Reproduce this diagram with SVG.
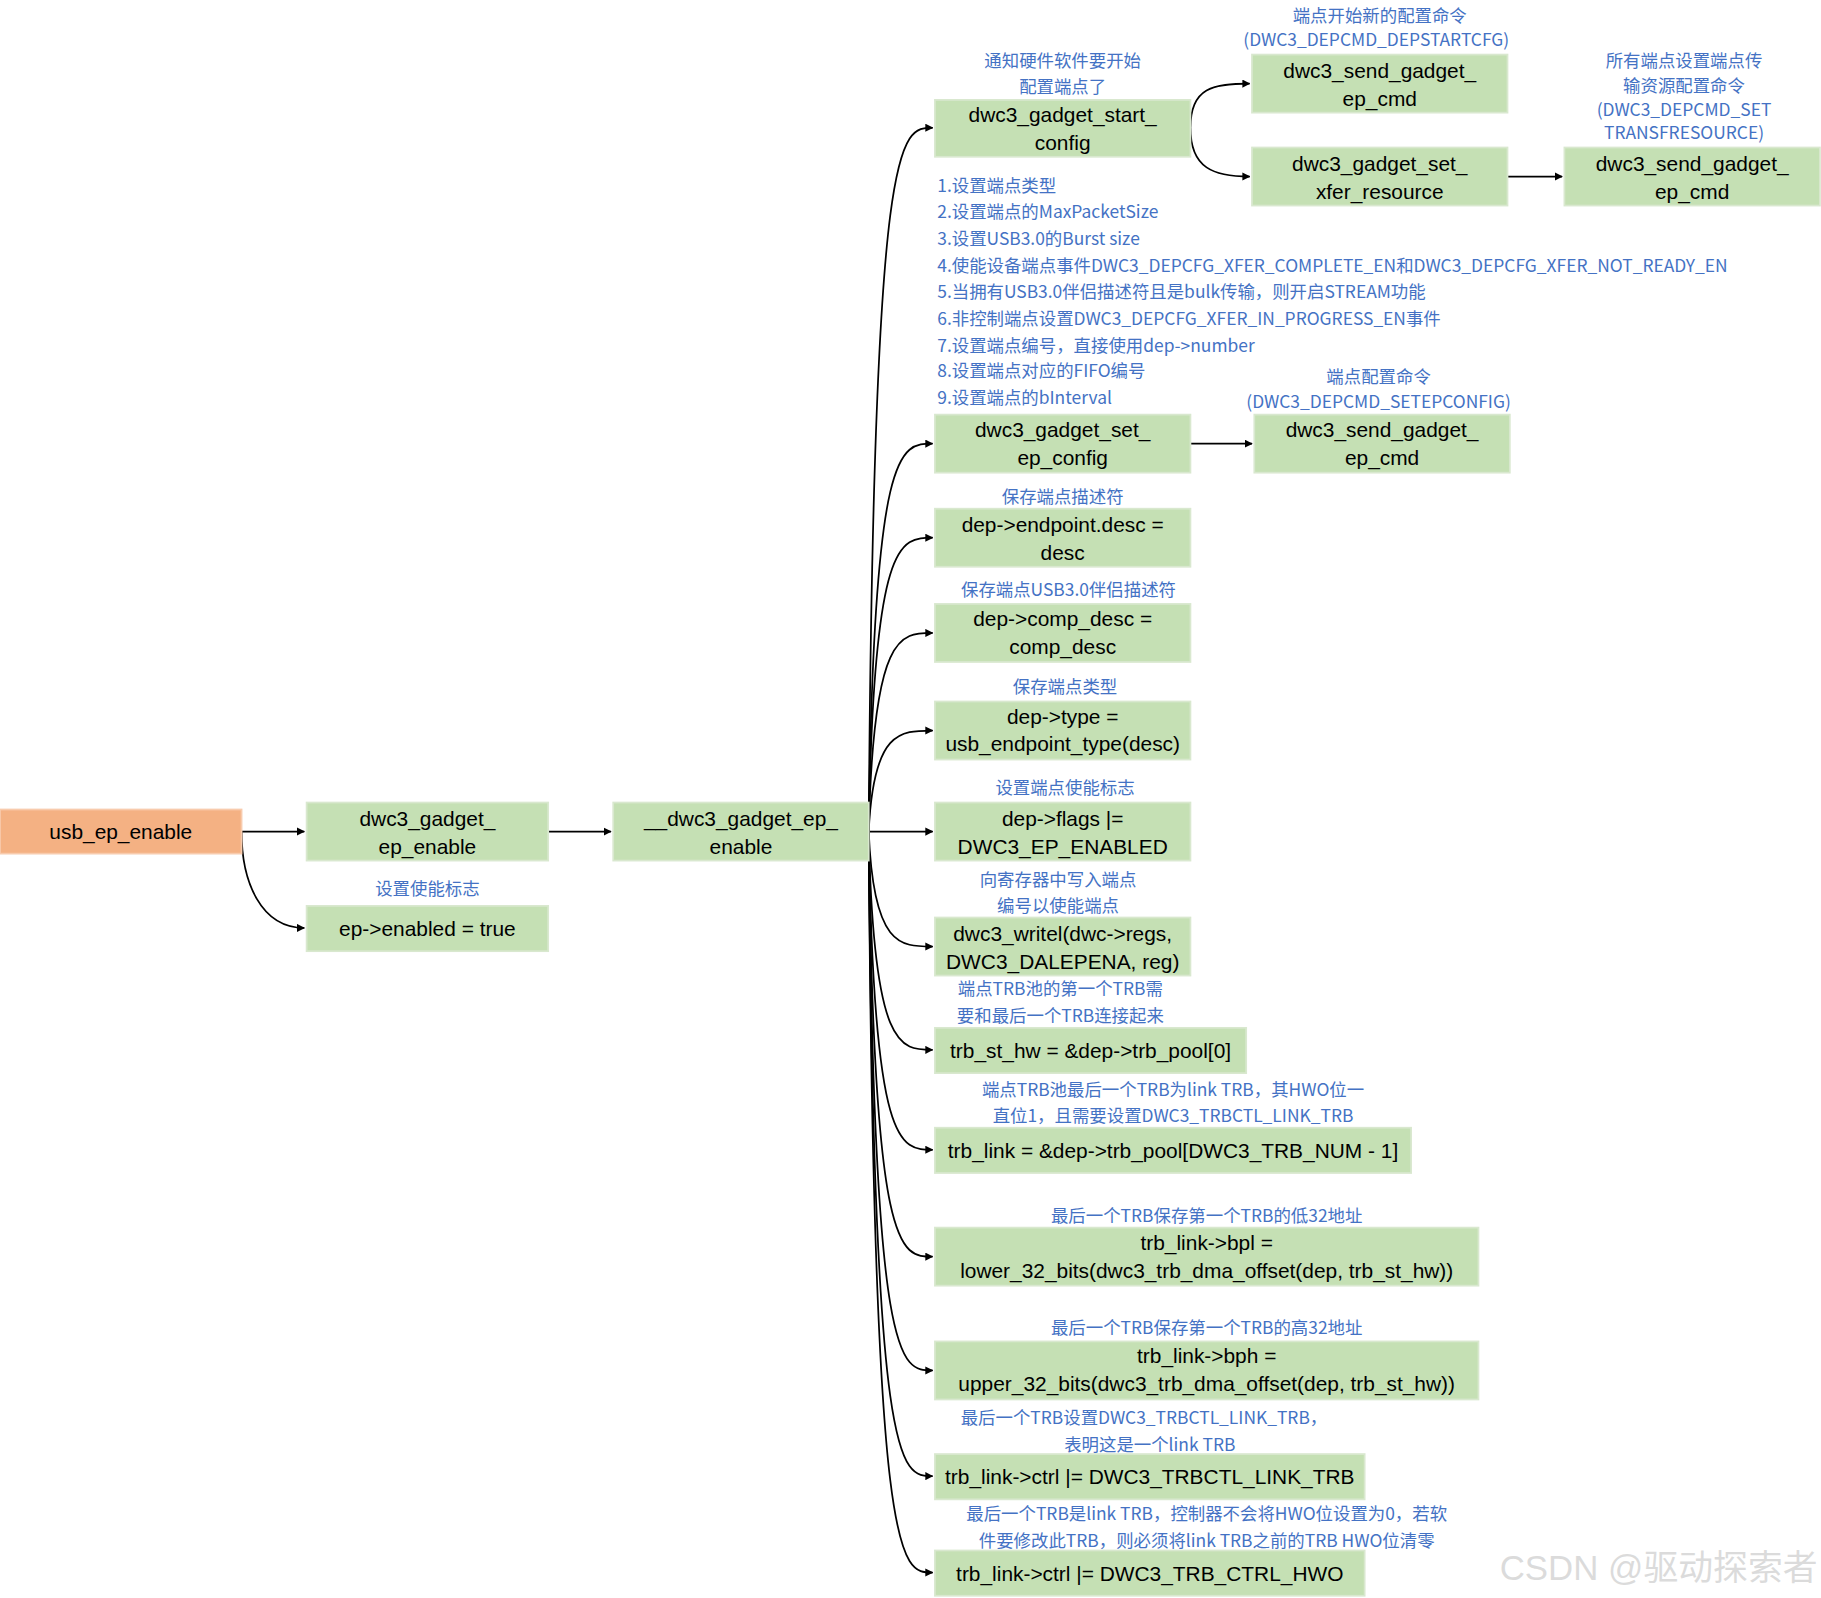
<svg xmlns="http://www.w3.org/2000/svg" width="1821" height="1598" viewBox="0 0 1821 1598">
<defs>
<marker id="ah" viewBox="0 0 10 10" refX="9" refY="5" markerWidth="7" markerHeight="7" orient="auto" markerUnits="userSpaceOnUse"><path d="M0,0 L10,5 L0,10 z" fill="#000"/></marker>
<style>
.g{fill:#C5E0B4;stroke:#D9E8CF;stroke-width:1.5}
.o{fill:#F4B183;stroke:#F8CBAD;stroke-width:1.5}
.t{font-family:"Liberation Sans","Noto Sans CJK SC",sans-serif;font-size:18px;fill:#000;text-anchor:middle}
.b{font-family:"Noto Sans CJK SC","Liberation Sans",sans-serif;font-size:15px;fill:#4472C4;text-anchor:middle}
.bl{font-family:"Noto Sans CJK SC","Liberation Sans",sans-serif;font-size:15px;fill:#4472C4}
.c{fill:none;stroke:#000;stroke-width:1.5;marker-end:url(#ah)}
</style>
</defs>
<rect width="1821" height="1598" fill="#fff"/>
<g transform="scale(1.1614)">
<g id="connectors">
<path class="c" d="M208,716 L262,716"/>
<path class="c" d="M208,716 C208,760 225,799 262,799"/>
<path class="c" d="M472,716 L526,716"/>
<path class="c" d="M748,716 L803,716"/>
<path class="c" d="M748,716 C752,110 775,110 803,110"/>
<path class="c" d="M748,716 C752,382 775,382 803,382"/>
<path class="c" d="M748,716 C752,463 775,463 803,463"/>
<path class="c" d="M748,716 C752,545 775,545 803,545"/>
<path class="c" d="M748,716 C752,629 775,629 803,629"/>
<path class="c" d="M748,716 C752,815 775,815 803,815"/>
<path class="c" d="M748,716 C752,904 775,904 803,904"/>
<path class="c" d="M748,716 C752,990 775,990 803,990"/>
<path class="c" d="M748,716 C752,1082 775,1082 803,1082"/>
<path class="c" d="M748,716 C752,1180 775,1180 803,1180"/>
<path class="c" d="M748,716 C752,1271 775,1271 803,1271"/>
<path class="c" d="M748,716 C752,1354 775,1354 803,1354"/>
<path class="c" d="M1025,110 C1025,75 1045,72 1076,72"/>
<path class="c" d="M1025,110 C1025,145 1045,152 1076,152"/>
<path class="c" d="M1298,152 L1345,152"/>
<path class="c" d="M1025,382 L1078,382"/>
</g>
<g id="n_usb"><rect class="o" x="0" y="697" width="208" height="38"/><text class="t" x="104" y="722">usb_ep_enable</text></g>
<g id="n_ep_enable"><rect class="g" x="264" y="691" width="208" height="50"/><text class="t" x="368" y="711">dwc3_gadget_</text><text class="t" x="368" y="735">ep_enable</text></g>
<g id="n_enabled"><text class="b" x="368" y="771">设置使能标志</text><rect class="g" x="264" y="780" width="208" height="39"/><text class="t" x="368" y="806">ep-&gt;enabled = true</text></g>
<g id="n_ep_enable2"><rect class="g" x="528" y="691" width="220" height="50"/><text class="t" x="638" y="711">__dwc3_gadget_ep_</text><text class="t" x="638" y="735">enable</text></g>
<g id="n_start"><text class="b" x="915" y="58">通知硬件软件要开始</text><text class="b" x="915" y="80">配置端点了</text><rect class="g" x="805" y="86" width="220" height="49"/><text class="t" x="915" y="105">dwc3_gadget_start_</text><text class="t" x="915" y="129">config</text></g>
<g id="n_cmd1"><text class="b" x="1188" y="19">端点开始新的配置命令</text><text class="b" x="1185" y="40">(DWC3_DEPCMD_DEPSTARTCFG)</text><rect class="g" x="1078" y="47" width="220" height="50"/><text class="t" x="1188" y="67">dwc3_send_gadget_</text><text class="t" x="1188" y="91">ep_cmd</text></g>
<g id="n_xfer"><rect class="g" x="1078" y="127" width="220" height="50"/><text class="t" x="1188" y="147">dwc3_gadget_set_</text><text class="t" x="1188" y="171">xfer_resource</text></g>
<g id="n_cmd2"><text class="b" x="1450" y="58">所有端点设置端点传</text><text class="b" x="1450" y="79">输资源配置命令</text><text class="b" x="1450" y="100">(DWC3_DEPCMD_SET</text><text class="b" x="1450" y="120">TRANSFRESOURCE)</text><rect class="g" x="1347" y="127" width="220" height="50"/><text class="t" x="1457" y="147">dwc3_send_gadget_</text><text class="t" x="1457" y="171">ep_cmd</text></g>
<g id="n_list">
<text class="bl" x="807" y="165">1.设置端点类型</text>
<text class="bl" x="807" y="188">2.设置端点的MaxPacketSize</text>
<text class="bl" x="807" y="211">3.设置USB3.0的Burst size</text>
<text class="bl" x="807" y="234">4.使能设备端点事件DWC3_DEPCFG_XFER_COMPLETE_EN和DWC3_DEPCFG_XFER_NOT_READY_EN</text>
<text class="bl" x="807" y="257">5.当拥有USB3.0伴侣描述符且是bulk传输，则开启STREAM功能</text>
<text class="bl" x="807" y="280">6.非控制端点设置DWC3_DEPCFG_XFER_IN_PROGRESS_EN事件</text>
<text class="bl" x="807" y="303">7.设置端点编号，直接使用dep-&gt;number</text>
<text class="bl" x="807" y="325">8.设置端点对应的FIFO编号</text>
<text class="bl" x="807" y="348">9.设置端点的bInterval</text>
</g>
<g id="n_epconfig"><rect class="g" x="805" y="357" width="220" height="50"/><text class="t" x="915" y="376">dwc3_gadget_set_</text><text class="t" x="915" y="400">ep_config</text></g>
<g id="n_cmd3"><text class="b" x="1187" y="330">端点配置命令</text><text class="b" x="1187" y="351">(DWC3_DEPCMD_SETEPCONFIG)</text><rect class="g" x="1080" y="357" width="220" height="50"/><text class="t" x="1190" y="376">dwc3_send_gadget_</text><text class="t" x="1190" y="400">ep_cmd</text></g>
<g id="n_desc"><text class="b" x="915" y="433">保存端点描述符</text><rect class="g" x="805" y="438" width="220" height="50"/><text class="t" x="915" y="458">dep-&gt;endpoint.desc =</text><text class="t" x="915" y="482">desc</text></g>
<g id="n_comp"><text class="b" x="920" y="513">保存端点USB3.0伴侣描述符</text><rect class="g" x="805" y="520" width="220" height="50"/><text class="t" x="915" y="539">dep-&gt;comp_desc =</text><text class="t" x="915" y="563">comp_desc</text></g>
<g id="n_type"><text class="b" x="917" y="597">保存端点类型</text><rect class="g" x="805" y="604" width="220" height="50"/><text class="t" x="915" y="623">dep-&gt;type =</text><text class="t" x="915" y="647">usb_endpoint_type(desc)</text></g>
<g id="n_flags"><text class="b" x="917" y="684">设置端点使能标志</text><rect class="g" x="805" y="691" width="220" height="50"/><text class="t" x="915" y="711">dep-&gt;flags |=</text><text class="t" x="915" y="735">DWC3_EP_ENABLED</text></g>
<g id="n_writel"><text class="b" x="911" y="763">向寄存器中写入端点</text><text class="b" x="911" y="785">编号以使能端点</text><rect class="g" x="805" y="790" width="220" height="50"/><text class="t" x="915" y="810">dwc3_writel(dwc-&gt;regs,</text><text class="t" x="915" y="834">DWC3_DALEPENA, reg)</text></g>
<g id="n_sthw"><text class="b" x="913" y="857">端点TRB池的第一个TRB需</text><text class="b" x="913" y="880">要和最后一个TRB连接起来</text><rect class="g" x="805" y="885" width="268" height="39"/><text class="t" x="939" y="911">trb_st_hw = &amp;dep-&gt;trb_pool[0]</text></g>
<g id="n_link"><text class="b" x="1010" y="944">端点TRB池最后一个TRB为link TRB，其HWO位一</text><text class="b" x="1010" y="966">直位1，且需要设置DWC3_TRBCTL_LINK_TRB</text><rect class="g" x="805" y="971" width="410" height="39"/><text class="t" x="1010" y="997">trb_link = &amp;dep-&gt;trb_pool[DWC3_TRB_NUM - 1]</text></g>
<g id="n_bpl"><text class="b" x="1039" y="1052">最后一个TRB保存第一个TRB的低32地址</text><rect class="g" x="805" y="1057" width="468" height="50"/><text class="t" x="1039" y="1076">trb_link-&gt;bpl =</text><text class="t" x="1039" y="1100">lower_32_bits(dwc3_trb_dma_offset(dep, trb_st_hw))</text></g>
<g id="n_bph"><text class="b" x="1039" y="1149">最后一个TRB保存第一个TRB的高32地址</text><rect class="g" x="805" y="1155" width="468" height="50"/><text class="t" x="1039" y="1174">trb_link-&gt;bph =</text><text class="t" x="1039" y="1198">upper_32_bits(dwc3_trb_dma_offset(dep, trb_st_hw))</text></g>
<g id="n_ctrl1"><text class="b" x="985" y="1226">最后一个TRB设置DWC3_TRBCTL_LINK_TRB，</text><text class="b" x="990" y="1249">表明这是一个link TRB</text><rect class="g" x="805" y="1252" width="370" height="39"/><text class="t" x="990" y="1278">trb_link-&gt;ctrl |= DWC3_TRBCTL_LINK_TRB</text></g>
<g id="n_ctrl2"><text class="b" x="1039" y="1309">最后一个TRB是link TRB，控制器不会将HWO位设置为0，若软</text><text class="b" x="1039" y="1332">件要修改此TRB，则必须将link TRB之前的TRB HWO位清零</text><rect class="g" x="805" y="1335" width="370" height="39"/><text class="t" x="990" y="1361">trb_link-&gt;ctrl |= DWC3_TRB_CTRL_HWO</text></g>
<text x="1565" y="1360" font-family="Liberation Sans,Noto Sans CJK SC,sans-serif" font-size="30" fill="#ccc" fill-opacity="0.7" text-anchor="end">CSDN @驱动探索者</text>
</g>
</svg>
